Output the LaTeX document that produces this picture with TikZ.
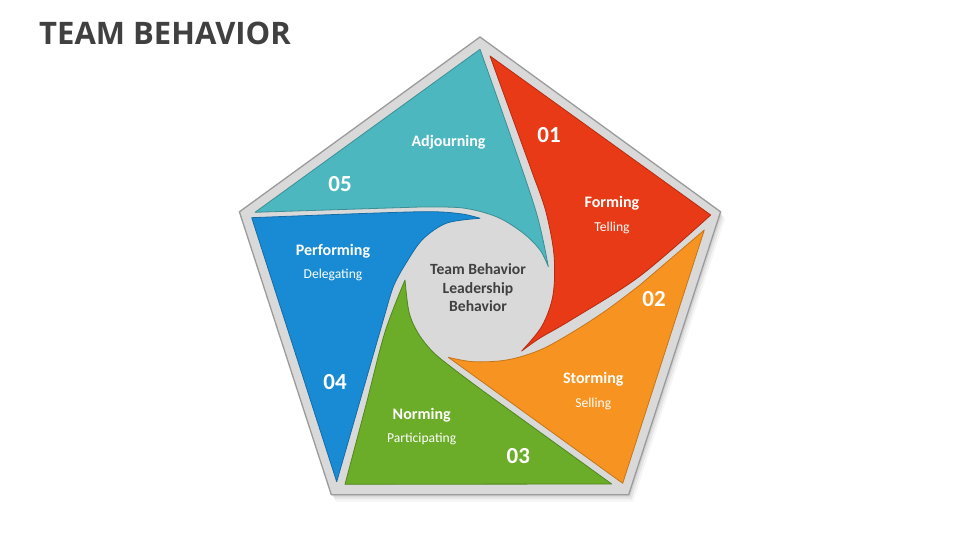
\documentclass[tikz,border=0pt]{standalone}
\usepackage{fontspec}
\setmainfont{Carlito}
\newfontfamily\titlefont{Open Sans}
\definecolor{cred}{RGB}{232,58,22}
\definecolor{corange}{RGB}{247,147,33}
\definecolor{cgreen}{RGB}{107,172,40}
\definecolor{cblue}{RGB}{25,139,212}
\definecolor{cteal}{RGB}{77,183,191}
\definecolor{cgray}{RGB}{217,217,217}
\definecolor{cborder}{RGB}{155,155,155}
\definecolor{ctext}{RGB}{64,64,64}
\begin{document}
\begin{tikzpicture}[x=1pt,y=-1pt,
  seg/.style={line width=0.8pt, line join=round},
  redseg/.style={seg, fill=cred, draw=cred!78!black},
  orangeseg/.style={seg, fill=corange, draw=corange!80!black},
  greenseg/.style={seg, fill=cgreen, draw=cgreen!78!black},
  blueseg/.style={seg, fill=cblue, draw=cblue!78!black},
  tealseg/.style={seg, fill=cteal, draw=cteal!78!black},
  num/.style={font=\bfseries\fontsize{23}{23}\selectfont, text=white, inner sep=0pt},
  lab/.style={font=\bfseries\fontsize{16}{16}\selectfont, text=white, inner sep=0pt},
  sub/.style={font=\fontsize{13.6}{13.6}\selectfont, text=white, inner sep=0pt},
  ctr/.style={font=\bfseries\fontsize{15.6}{15.6}\selectfont, text=ctext, inner sep=0pt},
  smoothplot/.style={smooth, tension=0.55}]
\useasboundingbox (0,0) rectangle (960,540);
\fill[white] (0,0) rectangle (960,540);

% title
\node[anchor=base west, font=\titlefont\bfseries\fontsize{31}{31}\selectfont, text=ctext, inner sep=0pt] (title) at (39,45) {TEAM BEHAVIOR};

% pentagon shadow
\begin{scope}[shift={(1.5,2)}]
\fill[black, opacity=0.08] (480,37) -- (720.6,211.8) -- (628.7,494.7) -- (331.3,494.7) -- (239.4,211.8) -- cycle;
\end{scope}
\begin{scope}[shift={(3,4.5)}]
\fill[black, opacity=0.06] (480,37) -- (720.6,211.8) -- (628.7,494.7) -- (331.3,494.7) -- (239.4,211.8) -- cycle;
\end{scope}
\begin{scope}[shift={(4.5,7)}]
\fill[black, opacity=0.04] (480,37) -- (720.6,211.8) -- (628.7,494.7) -- (331.3,494.7) -- (239.4,211.8) -- cycle;
\end{scope}

% pentagon
\coordinate (P1) at (480,37);
\coordinate (P2) at (720.6,211.8);
\coordinate (P3) at (628.7,494.7);
\coordinate (P4) at (331.3,494.7);
\coordinate (P5) at (239.4,211.8);
\filldraw[fill=cgray, draw=cborder, line width=1.3pt, line join=miter] (P1) -- (P2) -- (P3) -- (P4) -- (P5) -- cycle;

% teal (Adjourning)
\filldraw[tealseg] (255,212.3) -- (480,49.3)
  -- plot[smoothplot] coordinates {(480,49.3) (512,140) (537,215) (548.3,266.7)}
  -- plot[smoothplot] coordinates {(548.3,266.7) (540,250) (523,233) (497,217) (463,208) (420,207)}
  -- cycle;

% red (Forming)
\filldraw[redseg] (490,56) -- (710.7,215)
  -- plot[smoothplot] coordinates {(710.7,215) (640,276) (571,320) (540,338) (521.7,351)}
  -- plot[smoothplot] coordinates {(521.7,351) (542,326) (553,295) (554,255) (546,212) (535,180)}
  -- cycle;

% orange (Storming)
\filldraw[orangeseg] (704.3,230) -- (622.7,483.3) -- (448.3,357.3)
  -- plot[smoothplot] coordinates {(448.3,357.3) (473.3,361.7) (506.7,360) (540,350) (573.3,331.7) (606.7,310) (640,285)}
  -- cycle;

% green (Norming)
\filldraw[greenseg] (611.7,484) -- (345,484.3)
  -- plot[smoothplot] coordinates {(345,484.3) (366,405) (385,332) (405,280)}
  -- plot[smoothplot] coordinates {(405,280) (409,312) (418,333) (433,352) (455,370) (483,391)}
  -- cycle;

% blue (Performing)
\filldraw[blueseg] (336.7,481.7) -- (251.7,217.7)
  -- plot[smoothplot] coordinates {(251.7,217.7) (363,213.5) (430,211.7) (462,214) (480,218.3)}
  -- plot[smoothplot] coordinates {(480,218.3) (447,223) (423,239) (406.7,262) (394,285) (387,307)}
  -- cycle;

% numbers
\node[num, anchor=base] (n1) at (549,143) {01};
\node[num, anchor=base] (n2) at (654,306.5) {02};
\node[num, anchor=base] (n3) at (518.3,463.3) {03};
\node[num, anchor=base] (n4) at (335,389.3) {04};
\node[num, anchor=base] (n5) at (340,191) {05};

% labels
\node[lab, anchor=base] (l5) at (448.5,146.7) {Adjourning};
\node[lab, anchor=base] (l1) at (612,207.7) {Forming};
\node[sub, anchor=base] (s1) at (612,231.7) {Telling};
\node[lab, anchor=base] (l2) at (593.3,383.3) {Storming};
\node[sub, anchor=base] (s2) at (593.3,407.3) {Selling};
\node[lab, anchor=base] (l3) at (421.7,419.3) {Norming};
\node[sub, anchor=base] (s3) at (421.7,442.7) {Participating};
\node[lab, anchor=base] (l4) at (333,255) {Performing};
\node[sub, anchor=base] (s4) at (333,278.3) {Delegating};

% center
\node[ctr, anchor=base] (c1) at (478,274) {Team Behavior};
\node[ctr, anchor=base] (c2) at (478,293) {Leadership};
\node[ctr, anchor=base] (c3) at (478,311.7) {Behavior};
\end{tikzpicture}
\end{document}
